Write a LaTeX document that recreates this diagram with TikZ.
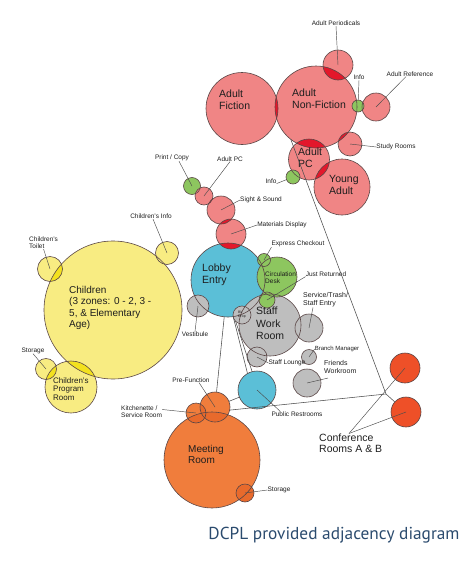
\documentclass[tikz,border=0pt]{standalone}
\usepackage{fontspec}
\setmainfont{Liberation Sans}
\newfontfamily\capfont{PT Sans}
\usetikzlibrary{calc}

\definecolor{adultc}{HTML}{F08585}
\definecolor{adultx}{HTML}{E3172B}
\definecolor{infoc}{HTML}{8DC65F}
\definecolor{lobbyc}{HTML}{5BBFD7}
\definecolor{staffc}{HTML}{BEBEBE}
\definecolor{kidc}{HTML}{F8EC82}
\definecolor{kidx}{HTML}{F3E11E}
\definecolor{meetc}{HTML}{F07D3C}
\definecolor{meetx}{HTML}{E86A2C}
\definecolor{confc}{HTML}{EE5028}
\definecolor{rimc}{HTML}{5A4646}
\definecolor{txtc}{HTML}{1E1E1E}
\definecolor{capc}{HTML}{2B4B6E}

\tikzset{
  room/.style={circle, fill=#1, inner sep=0pt, outer sep=0pt},
  rimline/.style={draw=rimc, line width=0.6pt},
  joinline/.style={draw=black!70, line width=0.55pt},
  leader/.style={draw=black!70, line width=0.45pt},
  lbl/.style={font=\fontsize{6.5}{7.5}\selectfont, text=txtc, inner sep=0pt, align=left},
  big/.style={font=\fontsize{10.5}{12}\selectfont, text=txtc, inner sep=0pt, align=left, anchor=north west}
}

% darker lens where two rooms overlap
\newcommand{\overlap}[3]{%
  \begin{scope}
    \clip let \p1=($(#1.east)-(#1.center)$) in (#1.center) circle[radius=\x1];
    \fill[#3] let \p1=($(#2.east)-(#2.center)$) in (#2.center) circle[radius=\x1];
  \end{scope}}

\begin{document}
\begin{tikzpicture}[x=1pt,y=-1pt]
\useasboundingbox (0,0) rectangle (474,570);

% adult area
\node[room=adultc, minimum size=72pt] (fiction) at (242,108.5) {};
\node[room=adultc, minimum size=82pt] (nonfic) at (316,107) {};
\node[room=adultc, minimum size=30pt] (period) at (338,65) {};
\node[room=adultc, minimum size=28pt] (aref) at (376,107) {};
\node[room=adultc, minimum size=24pt] (study) at (350,144) {};
\node[room=adultc, minimum size=41pt] (apc) at (309,159.5) {};
\node[room=adultc, minimum size=56pt] (young) at (342,187) {};
\node[room=infoc, minimum size=12pt] (info1) at (358,106) {};
\node[room=infoc, minimum size=14pt] (info2) at (293,177) {};
\node[room=infoc, minimum size=17pt] (printc) at (192,186) {};
\node[room=adultc, minimum size=18pt] (apcs) at (204,196) {};
\node[room=adultc, minimum size=28pt] (sight) at (221,210) {};
\node[room=adultc, minimum size=30pt] (matl) at (231,234) {};

% lobby and staff
\node[room=lobbyc, minimum size=74pt] (lobby) at (228,280) {};
\node[room=staffc, minimum size=62pt] (staff) at (270,325) {};
\node[room=infoc, minimum size=40pt] (circ) at (277,277) {};
\node[room=infoc, minimum size=13pt] (express) at (264,260) {};
\node[room=infoc, minimum size=16pt] (justret) at (267,300) {};
\node[room=staffc, minimum size=18pt] (bkdrop) at (242,315) {};
\node[room=staffc, minimum size=28pt] (service) at (309,328) {};
\node[room=staffc, minimum size=20pt] (lounge) at (257,357) {};
\node[room=staffc, minimum size=15pt] (branch) at (309,357) {};
\node[room=staffc, minimum size=28pt] (friends) at (307,383) {};
\node[room=staffc, minimum size=22pt] (vest) at (198,306) {};
\node[room=lobbyc, minimum size=38pt] (restroom) at (257,390) {};

% children
\node[room=kidc, minimum size=138pt] (kids) at (113,310) {};
\node[room=kidc, minimum size=25pt] (toilet) at (50,269) {};
\node[room=kidc, minimum size=23pt] (kinfo) at (167,253) {};
\node[room=kidc, minimum size=21pt] (kstore) at (46,369) {};
\node[room=kidc, minimum size=52pt] (kprog) at (71,387) {};

% meeting and conference
\node[room=meetc, minimum size=96pt] (meeting) at (212,460) {};
\node[room=meetc, minimum size=30pt] (prefn) at (215,407) {};
\node[room=meetc, minimum size=20pt] (kitchen) at (196,413) {};
\node[room=meetx, minimum size=18pt] (mstore) at (245,493) {};
\node[room=confc, minimum size=30pt] (confa) at (405,368) {};
\node[room=confc, minimum size=30pt] (confb) at (406,412) {};

\overlap{fiction}{nonfic}{adultx}
\overlap{period}{nonfic}{adultx}
\overlap{study}{nonfic}{adultx}
\overlap{apc}{nonfic}{adultx}
\overlap{apc}{young}{adultx}
\overlap{apcs}{sight}{adultx}
\overlap{sight}{matl}{adultx}
\overlap{matl}{lobby}{adultx}
\overlap{toilet}{kids}{kidx}
\overlap{kstore}{kprog}{kidx}
\overlap{kids}{kprog}{kidx}
\overlap{prefn}{meeting}{meetx}
\overlap{kitchen}{meeting}{meetx}
\overlap{kitchen}{prefn}{meetx}

\foreach \rm in {fiction,nonfic,period,aref,study,apc,young,info1,info2,printc,apcs,sight,matl,
  lobby,staff,circ,express,justret,bkdrop,service,lounge,branch,friends,vest,restroom,
  kids,toilet,kinfo,kstore,kprog,meeting,prefn,kitchen,mstore,confa,confb}
  \draw[rimline] let \p1=($(\rm.east)-(\rm.center)$) in (\rm.center) circle[radius=\x1];

% names in the rooms
\node[big] (tfiction) at (219,90) {Adult\\Fiction};
\node[big] (tnonfic) at (292,89) {Adult\\Non-Fiction};
\node[big] (tapc) at (298,148) {Adult\\PC};
\node[big] (tyoung) at (329,175) {Young\\Adult};
\node[big] (tlobby) at (202,264) {Lobby\\Entry};
\node[big, font=\fontsize{10.5}{12.5}\selectfont] (tstaff) at (256,307) {Staff\\Work\\Room};
\node[big, font=\fontsize{10}{11}\selectfont] (tmeeting) at (188,445) {Meeting\\Room};
\node[big, font=\fontsize{10}{11.5}\selectfont] (tkids) at (69,286) {Children\\(3 zones: 0 - 2, 3 -\\5, \& Elementary\\Age)};
\node[big, font=\fontsize{8}{8.5}\selectfont] (tkprog) at (53,377) {Children's\\Program\\Room};
\node[big, font=\fontsize{6.5}{7.5}\selectfont] (tcirc) at (265,271.5) {Circulation\\Desk};
\node[lbl, font=\fontsize{3.5}{4}\selectfont] (tbk) at (242,315) {Bk\\Drop};
\node[big, font=\fontsize{10.5}{11.5}\selectfont] (lconf) at (319,433.5) {Conference\\Rooms A \& B};

% labels with leaders
\node[lbl] (lperiod) at (336,23.5) {Adult Periodicals};
\node[lbl] (linfo1) at (359,77.5) {Info};
\node[lbl] (laref) at (410,74) {Adult Reference};
\node[lbl] (lstudy) at (396,147) {Study Rooms};
\node[lbl] (linfo2) at (271,181) {Info};
\node[lbl] (lapcs) at (230,159) {Adult PC};
\node[lbl] (lprint) at (172,158) {Print / Copy};
\node[lbl] (lsight) at (261,200) {Sight \& Sound};
\node[lbl] (lmatl) at (282,225) {Materials Display};
\node[lbl] (lexpress) at (298,244) {Express Checkout};
\node[lbl] (ljust) at (326,274) {Just Returned};
\node[lbl, anchor=north west, font=\fontsize{7}{8}\selectfont] (lservice) at (303,292.5) {Service/Trash/\\Staff Entry};
\node[lbl] (llounge) at (287,363) {Staff Lounge};
\node[lbl, font=\fontsize{6}{7}\selectfont] (lbranch) at (337,349) {Branch Manager};
\node[lbl, anchor=north west, font=\fontsize{7}{8}\selectfont] (lfriends) at (324,360.5) {Friends\\Workroom};
\node[lbl] (lvest) at (195,334) {Vestibule};
\node[lbl] (lrest) at (297,414) {Public Restrooms};
\node[lbl] (lprefn) at (191,380) {Pre-Function};
\node[lbl, anchor=north west] (lkitchen) at (121,405.5) {Kitchenette /\\Service Room};
\node[lbl] (lmstore) at (279,490) {Storage};
\node[lbl] (lkinfo) at (151,216.5) {Children's Info};
\node[lbl, anchor=north west] (ltoilet) at (29,236.5) {Children's\\Toilet};
\node[lbl] (lkstore) at (33,350.5) {Storage};

\draw[leader] (lperiod.south) -- (period.center);
\draw[leader] (linfo1.south) -- (info1);
\draw[leader] ([xshift=-4pt]laref.south) -- (aref.center);
\draw[leader] (study.center) -- (lstudy.west);
\draw[leader] (linfo2.south east) -- (info2);
\draw[leader] (lapcs.south) -- (apcs.center);
\draw[leader] ([xshift=7pt]lprint.south) -- (printc.center);
\draw[leader] (lsight.west) -- (sight.center);
\draw[leader] (lmatl.west) -- (matl.center);
\draw[leader] (lexpress.south west) -- (express.center);
\draw[leader] (ljust.south west) -- (justret.center);
\draw[leader] ([xshift=10pt]lservice.south west) -- (service.center);
\draw[leader] (lounge.center) -- (llounge.west);
\draw[leader] (branch.center) -- (lbranch.west);
\draw[leader] (friends.center) -- ([shift={(4pt,-4pt)}]lfriends.south west);
\draw[leader] (vest.center) -- (lvest.north);
\draw[leader] (restroom.center) -- ([xshift=9pt]lrest.north west);
\draw[leader] ([xshift=8pt]lprefn.south) -- (prefn.center);
\draw[leader] ([yshift=-4pt]lkitchen.north east) -- (kitchen.center);
\draw[leader] (mstore.center) -- (lmstore.west);
\draw[leader] ([xshift=2pt]lkinfo.south) -- (kinfo.center);
\draw[leader] (ltoilet.south) -- (toilet.center);
\draw[leader] (lkstore.south) -- (kstore.center);
\draw[leader] ([xshift=30pt]lconf.north west) -- (confa.center);
\draw[leader] ([xshift=30pt]lconf.north west) -- (confb.center);

% adjacency links
\coordinate (jn) at (386,394);
\draw[joinline] (nonfic.232) -- (jn) -- (confb);
\draw[joinline] (prefn.-12) -- (jn);
\draw[joinline] (lobby) -- (prefn);
\draw[joinline] (prefn) -- (restroom);
\draw[joinline] (bkdrop.200) -- (restroom.120);
\draw[joinline] (bkdrop.225) -- (restroom.105);

\node[font=\capfont\fontsize{17.3}{19}\selectfont, text=capc, inner sep=0pt] (caption) at (334,535) {DCPL provided adjacency diagram};
\end{tikzpicture}
\end{document}
